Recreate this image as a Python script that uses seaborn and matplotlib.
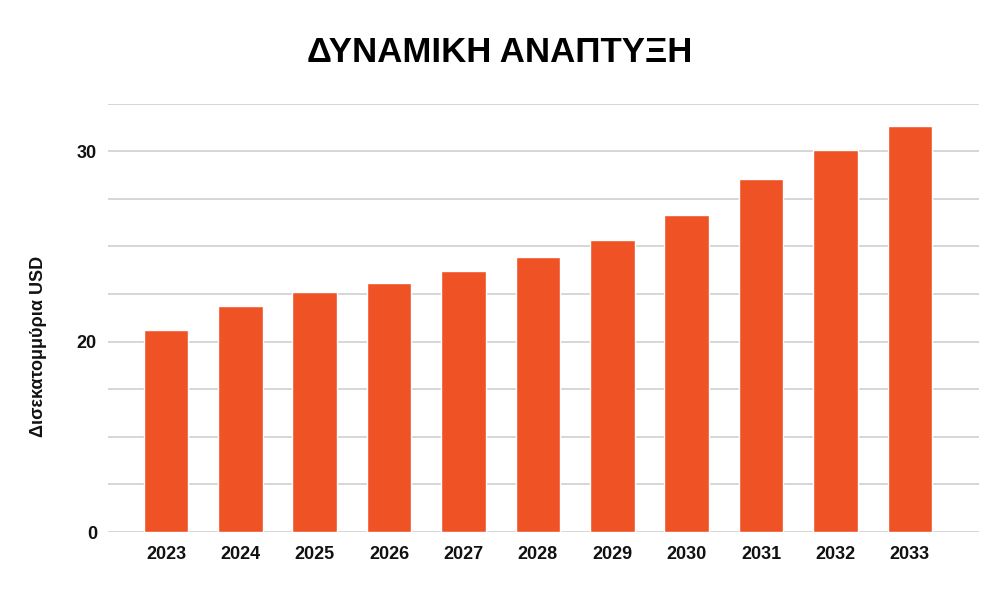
import numpy as np
import pandas as pd
import seaborn as sns
import matplotlib.pyplot as plt
from matplotlib.ticker import FixedLocator, NullFormatter

years = ['2023', '2024', '2025', '2026', '2027', '2028', '2029', '2030', '2031', '2032', '2033']
values = [20.62, 21.88, 22.62, 23.09, 23.72, 24.46, 25.35, 26.67, 28.51, 30.04, 31.3]
major_ticks = [0, 20, 30]
minor_ticks = [5, 10, 15, 22.5, 25, 27.5, 32.5]

title = 'ΔΥΝΑΜΙΚΗ ΑΝΑΠΤΥΞΗ'
ylabel = 'Δισεκατομμύρια USD'
bar_color = '#EF5325'


# the original axis is stretched above 20 (every gridline is 5 below, 2.5 above)
def fwd(v):
    v = np.asarray(v, dtype=float)
    return np.where(v <= 20, v / 5.0, 4 + (v - 20) / 2.5)


def inv(s):
    s = np.asarray(s, dtype=float)
    return np.where(s <= 4, s * 5.0, 20 + (s - 4) * 2.5)


df = pd.DataFrame({'year': years, 'value': values})

sns.set_theme(style='white')
plt.rcParams['font.family'] = ['Liberation Sans', 'DejaVu Sans']

fig = plt.figure(figsize=(10, 6), dpi=100)
ax = fig.add_axes([0.108, 0.1133, 0.871, 0.7142])

sns.barplot(data=df, x='year', y='value', color=bar_color, saturation=1,
            width=0.6, ax=ax, zorder=3)

ax.set_yscale('function', functions=(fwd, inv))
ax.set_ylim(0, 32.5)
ax.set_xlim(-0.78, 10.93)
ax.yaxis.set_major_locator(FixedLocator(major_ticks))
ax.yaxis.set_minor_locator(FixedLocator(minor_ticks))
ax.yaxis.set_minor_formatter(NullFormatter())
ax.grid(True, which='both', axis='y', color='#d6d6d6', linewidth=1.4, zorder=0)
ax.grid(False, axis='x')
for s in ax.spines.values():
    s.set_visible(False)
ax.tick_params(axis='both', which='both', length=0)
ax.tick_params(axis='y', pad=8)
ax.tick_params(axis='x', pad=10)
for lab in ax.get_xticklabels() + ax.get_yticklabels():
    lab.set_fontweight('bold')
    lab.set_fontsize(13)
    lab.set_color('#111111')

ax.set_xlabel('')
ax.set_ylabel(ylabel, fontsize=13, fontweight='bold', color='#111111')
ax.yaxis.set_label_coords(-0.07, 0.434)
fig.text(0.5, 0.913, title, ha='center', va='center', fontsize=25,
         fontweight='bold', color='#000000')

fig.savefig('out.png', dpi=100, facecolor='white')
